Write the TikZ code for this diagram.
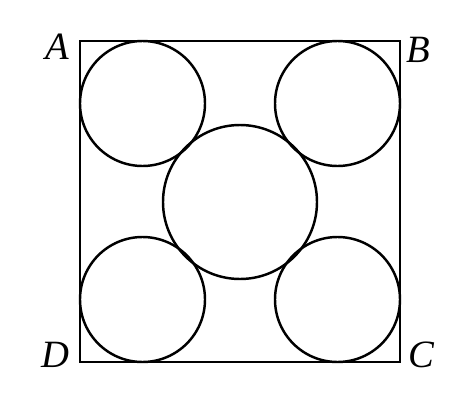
\documentclass[tikz,border=0pt]{standalone}
\usepackage{fontspec}
\setmainfont{Liberation Serif}
\usepackage{tikz}
\usetikzlibrary{positioning}
\tikzstyle{edge} = [draw=black, line width=1.4pt]
\tikzstyle{corner} = [font=\fontsize{22}{26}\selectfont\itshape, inner sep=0pt]
\tikzstyle{disk} = [circle, draw=black, line width=1.4pt, inner sep=0pt]

\begin{document}
\begin{tikzpicture}[x=0.02cm, y=-0.02cm]
  \useasboundingbox (0,0) rectangle (474,413);

  % We start by placing the corners of the square
  \coordinate (pA) at (80,41);
  \coordinate (pB) at (400,41);
  \coordinate (pC) at (400,362);
  \coordinate (pD) at (80,362);

  % Corner labels
  \node (A) [corner] at (57,47) {A};
  \node (B) [corner] at (418,50) {B};
  \node (C) [corner] at (421,355) {C};
  \node (D) [corner] at (55,355) {D};

  % The square
  \draw [edge] (pA) -- (pB) -- (pC) -- (pD) -- cycle;

  % The five circles
  \node (tl) [disk, minimum size=125*0.02cm] at (142.5,103.5) {};
  \node (tr) [disk, minimum size=125*0.02cm] at (337.5,103.5) {};
  \node (bl) [disk, minimum size=125*0.02cm] at (142.5,299.5) {};
  \node (br) [disk, minimum size=125*0.02cm] at (337.5,299.5) {};
  \node (mid) [disk, minimum size=154*0.02cm] at (240,202) {};

\end{tikzpicture}
\end{document}
